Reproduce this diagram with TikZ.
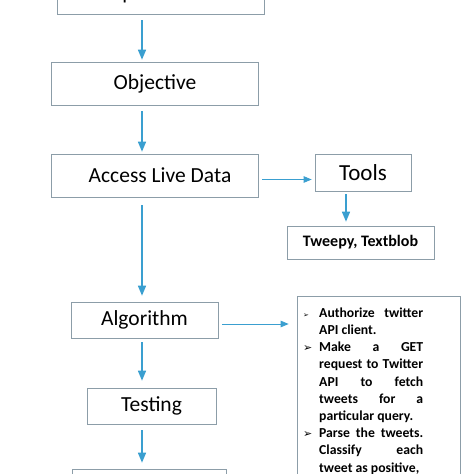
\documentclass[tikz,border=0pt]{standalone}
\usepackage{fontspec}
\setmainfont{Carlito}
\newfontfamily\symfont{DejaVu Sans}
\usetikzlibrary{shapes,arrows,positioning}

\definecolor{flowblue}{HTML}{3A9FD0}
\definecolor{boxgray}{HTML}{8C9DA8}

\begin{document}
\begin{tikzpicture}[x=1pt, y=-1pt]
		\tikzstyle{Step}	= [draw=boxgray, line width=0.8pt, fill=white, inner sep=0pt, font=\fontsize{21.5}{24}\selectfont]
		\tikzstyle{Small}	= [Step, font=\fontsize{16}{18}\selectfont\bfseries]
		\tikzstyle{Flow}	= [-triangle 45, flowblue, line width=1.3pt]
		\tikzstyle{Side}	= [-triangle 45, flowblue, line width=0.8pt]
		\newcommand{\bul}[1]{\noindent\hangindent=16pt\hangafter=1\makebox[16pt][l]{\symfont\fontsize{#1}{10}\selectfont ➢}}

		\useasboundingbox (0,0) rectangle (474,474);
		\clip (0,0) rectangle (474,474);

		\coordinate (spine) at (142,0);
		\coordinate (tw) at (346,0);

		\node (top) at (160.5,-7.5) [Step, minimum width=207pt, minimum height=43pt] {};
		\node (topword) at (128,-1) [anchor=base, inner sep=0pt, font=\fontsize{21.5}{24}\selectfont] {p};
		\node (obj) at (155,83.5) [Step, minimum width=207pt, minimum height=43pt] {Objective\hspace{5pt}};
		\node (acc) at (154.5,175.5) [Step, minimum width=207pt, minimum height=43pt] {\hspace{11pt}Access Live Data};
		\node (tools) at (363,172.5) [Step, minimum width=96pt, minimum height=37pt, font=\fontsize{23}{26}\selectfont] {Tools};
		\node (tweepy) at (360.5,242.5) [Small, minimum width=147pt, minimum height=33pt] {Tweepy, Textblob};
		\node (algo) at (144.5,320) [Step, minimum width=147pt, minimum height=36pt] {Algorithm\hspace{14pt}};
		\node (test) at (151.5,406) [Step, minimum width=129pt, minimum height=36pt] {Testing};
		\node (last) at (149,489) [Step, minimum width=154pt, minimum height=40pt] {};
		\node (steps) at (378.5,421) [Step, minimum width=163pt, minimum height=250pt] {};
		\node (list) at (303,307.5) [anchor=north west, inner sep=0pt, text width=120pt, align=justify,
			font=\fontsize{13.7}{17.2}\selectfont\bfseries] {%
			\bul{7}Authorize twitter\linebreak API client.\par
			\bul{11}Make a GET\linebreak request to Twitter\linebreak API to fetch\linebreak tweets for a\linebreak particular query.\par
			\bul{11}Parse the tweets.\linebreak Classify each\linebreak tweet as positive,\par};

		\draw [Flow, shorten <=6pt, shorten >=2pt] (top.south -| spine) to (obj.north -| spine);
		\draw [Flow, shorten <=6pt, shorten >=2pt] (obj.south -| spine) to (acc.north -| spine);
		\draw [Flow, shorten <=8pt, shorten >=6pt] (acc.south -| spine) to (algo.north -| spine);
		\draw [Flow, shorten <=4pt, shorten >=7pt] (algo.south -| spine) to (test.north -| spine);
		\draw [Flow, shorten <=6pt, shorten >=6pt] (test.south -| spine) to (last.north -| spine);
		\draw [Side, shorten <=4pt, shorten >=3pt] ([yshift=-4pt]acc.east) to ([yshift=-4pt]acc.east -| tools.west);
		\draw [Flow, shorten <=3pt, shorten >=4pt] (tools.south -| tw) to (tweepy.north -| tw);
		\draw [Side, shorten <=4pt, shorten >=8pt] ([yshift=-4pt]algo.east) to ([yshift=-4pt]algo.east -| steps.west);
	\end{tikzpicture}
\end{document}
